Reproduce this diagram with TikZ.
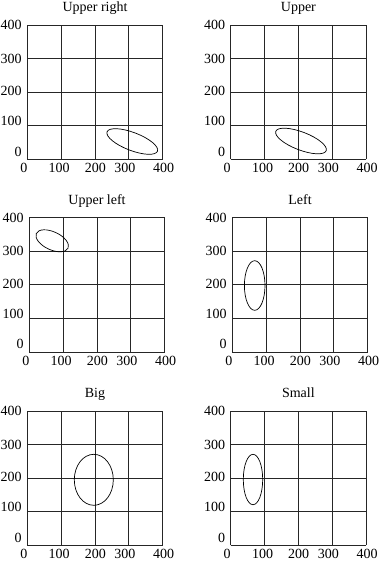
\documentclass[tikz,border=0pt]{standalone}
\usepackage{fontspec}
\setmainfont{Liberation Serif}
\tikzset{
  gridline/.style={line width=0.8pt, black!85},
  outline/.style={line width=0.7pt, black},
  ttl/.style={font=\fontsize{14}{16}\selectfont, anchor=base, inner sep=0pt},
  xlab/.style={font=\fontsize{14}{16}\selectfont, anchor=base, inner sep=0pt},
  ylab/.style={font=\fontsize{14}{16}\selectfont, anchor=base east, inner sep=0pt},
}
\newcommand{\mypanel}[4]{%
  \begin{scope}[shift={(#2,#3)}]
    \foreach \i in {0,...,4} {
      \draw[gridline] ({\i*33.85},0) -- ({\i*33.85},-134.4);
      \draw[gridline] (0,{-\i*33.6}) -- (135.4,{-\i*33.6});
    }
    \node[ttl] (#1-title) at (67.7,-147.4) {#4};
    \node[xlab] (#1-x0) at (-3.5,13.3) {0};
    \node[xlab] (#1-x1) at (31.85,13.3) {100};
    \node[xlab] (#1-x2) at (68.0,13.3) {200};
    \node[xlab] (#1-x3) at (97.55,13.3) {300};
    \node[xlab] (#1-x4) at (136.4,13.3) {400};
    \node[ylab] (#1-y4) at (-5.5,-129.6) {400};
    \node[ylab] (#1-y3) at (-5.5,-96.3) {300};
    \node[ylab] (#1-y2) at (-5.5,-63.4) {200};
    \node[ylab] (#1-y1) at (-5.5,-33.4) {100};
    \node[ylab] (#1-y0) at (-5.5,-3.3) {0};
  \end{scope}}
\begin{document}
\begin{tikzpicture}[x=1pt,y=-1pt]
  \useasboundingbox (0,0) rectangle (379,568);
  % panel 1
  \mypanel{ur}{27.3}{159.3}{Upper right}
  \begin{scope}[shift={(27.3,159.3)}]
    \draw[outline, rotate around={-21:(105,-17.8)}] (105,-17.8) ellipse [x radius=27pt, y radius=9pt];
  \end{scope}
  % panel 2
  \mypanel{up}{230.7}{159.3}{Upper}
  \begin{scope}[shift={(230.7,159.3)}]
    \draw[outline, rotate around={-21:(70.3,-18.3)}] (70.3,-18.3) ellipse [x radius=27pt, y radius=9pt];
  \end{scope}
  % panel 3
  \mypanel{ul}{29.3}{352}{Upper left}
  \begin{scope}[shift={(29.3,352)}]
    \draw[outline, rotate around={-25:(22.9,-111.2)}] (22.9,-111.2) ellipse [x radius=17.5pt, y radius=9pt];
  \end{scope}
  % panel 4
  \mypanel{le}{232.3}{352}{Left}
  \begin{scope}[shift={(232.3,352)}]
    \draw[outline] (22.4,-66.5) ellipse [x radius=10.3pt, y radius=24.8pt];
  \end{scope}
  % panel 5
  \mypanel{bi}{27.3}{545.3}{Big}
  \begin{scope}[shift={(27.3,545.3)}]
    \draw[outline] (66.5,-65.5) ellipse [x radius=19.5pt, y radius=25.5pt];
  \end{scope}
  % panel 6
  \mypanel{sm}{230.7}{545.3}{Small}
  \begin{scope}[shift={(230.7,545.3)}]
    \draw[outline] (22.3,-65.8) ellipse [x radius=9.7pt, y radius=25.2pt];
  \end{scope}
\end{tikzpicture}
\end{document}
